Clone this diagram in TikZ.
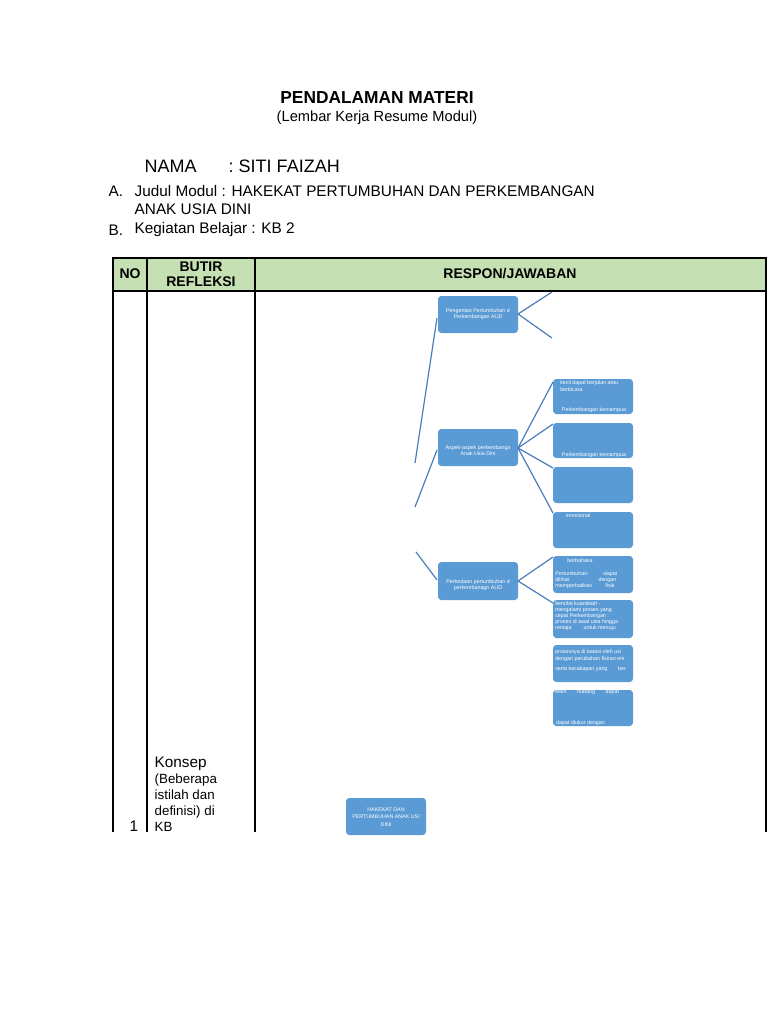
\documentclass[tikz,border=0pt]{standalone}
\usepackage{fontspec}
\setmainfont{Liberation Sans}
\begin{document}
\begin{tikzpicture}[x=0.75pt,y=-0.75pt,
 bx/.style={draw=none,fill=blue!45!cyan!60!black!0,rounded corners=2pt},
 blue/.style={fill=boxb,rounded corners=2.5pt},
 ln/.style={draw=lineb,line width=0.9pt},
 t/.style={text=white,font=\fontsize{4}{4.5}\selectfont,inner sep=0pt,align=center},
 tab/.style={line width=0.8pt}]
\definecolor{boxb}{HTML}{5B9BD5}
\definecolor{lineb}{HTML}{4A7EBB}
\definecolor{hdr}{HTML}{C5E0B3}
\useasboundingbox (0,0) rectangle (768,1024);
\fill[white] (0,0) rectangle (768,1024);
\node (title) at (377,98) {\fontsize{13}{15}\selectfont\bfseries PENDALAMAN MATERI};
\node (sub) at (377,118) {\fontsize{11}{13}\selectfont (Lembar Kerja Resume Modul)};
\node[anchor=west] (nama) at (140,166) {\fontsize{13.5}{15}\selectfont NAMA\hspace{24pt}: SITI FAIZAH};
\node[anchor=west] (a) at (104,191) {\fontsize{11.5}{13}\selectfont A.};
\node[anchor=west] (ja) at (130,191) {\fontsize{11.5}{13}\selectfont Judul Modul : HAKEKAT PERTUMBUHAN DAN PERKEMBANGAN};
\node[anchor=west] (jb) at (130,209) {\fontsize{11.5}{13}\selectfont ANAK USIA DINI};
\node[anchor=west] (b) at (104,230) {\fontsize{11.5}{13}\selectfont B.};
\node[anchor=west] (kb) at (130,230) {\fontsize{11.5}{13}\selectfont Kegiatan Belajar : KB 2};
% table
\fill[hdr] (113,258) rectangle (766,291);
\draw[tab] (113,832) -- (113,258) -- (766,258) -- (766,832);
\draw[tab] (113,291) -- (766,291);
\draw[tab] (147,258) -- (147,832);
\draw[tab] (255,258) -- (255,832);
\node (hno) at (130,274) {\fontsize{10.5}{12}\selectfont\bfseries NO};
\node[align=center] (hbr) at (201,274) {\fontsize{10.5}{12}\selectfont\bfseries BUTIR\\[-1pt]\fontsize{10.5}{12}\selectfont\bfseries REFLEKSI};
\node (hrj) at (510,274) {\fontsize{10.5}{12}\selectfont\bfseries RESPON/JAWABAN};
\node (n1) at (134,826) {\fontsize{11.5}{13}\selectfont 1};
\node[anchor=north west,align=left] (konsep) at (150,752) {\fontsize{11.5}{14.6}\selectfont Konsep\\(Beberapa\\istilah dan\\definisi) di\\KB};
% boxes
\fill[blue] (438,296) rectangle (518,333);
\fill[blue] (438,429) rectangle (518,466);
\fill[blue] (438,562) rectangle (518,600);
\fill[blue] (346,798) rectangle (426,835);
\foreach \y/\h in {379/414,423/458,467/503,512/548,556/593,600/638,645/682,690/726}
  \fill[blue] (553,\y) rectangle (633,\h);
\node[t] (p1) at (478,314) {Pengertian Pertumbuhan d\\Perkembangan AUD};
\node[t] (p2) at (478,451) {Aspek-aspek perkembanga\\Anak Usia Dini};
\node[t] (p3) at (478,585) {Perbedaan pertumbuhan d\\perkembanagn AUD};
\node[t] (hk) at (386,817) {HAKEKAT DAN\\[1pt]PERTUMBUHAN ANAK USI\\[1pt]DINI};
\node[t,anchor=north west,align=left] (r1) at (560,380) {kecil dapat berjalan atau\\[1pt]berbicara};
\node[t] (r1b) at (594,413) {Perkembangan kemampua\\ naa};
\node[t] (r2b) at (594,458) {Perkembangan kemampua\\ kognitif};
\node[t] (r4) at (578,516) {emosional};
\node[t] (r5a) at (580,561) {berbahasa};
\node[t,anchor=north west,align=left] (r5b) at (555,571) {Pertumbuhan:\hspace{10pt}-dapat\\dilihat\hspace{22pt}dengan\\memperhatikan\hspace{10pt}fisik};
\node[t,anchor=north west,align=left] (r6) at (555,601) {bersifat kuantitatif -\\mengalami proses yang\\ cepat Perkembangan :\\ proses di awal usia hingga\\remaja\hspace{8pt} untuk menuju};
\node[t,anchor=north west,align=left] (r7) at (555,649) {prosesnya di batasi oleh usi\\[1pt]dengan perubahan fisiran em\\[3pt]serta kecakapan yang\hspace{8pt}ber};
\node[t,anchor=north west,align=left] (r8) at (555,689) {lebih\hspace{8pt}matang\hspace{8pt}dapat};
\node[t,anchor=north west,align=left] (r8b) at (556,720) {dapat diukur dengan};
% connectors
\coordinate (c1) at (552,292); \coordinate (c2) at (552,338);
\draw[ln] (518,314) -- (c1); \draw[ln] (518,314) -- (c2);
\foreach \y in {382,424,468,513} \draw[ln] (518,448) -- (553,\y);
\draw[ln] (518,581) -- (553,557); \draw[ln] (518,581) -- (553,603);
\draw[ln] (415,463) -- (437,318);
\draw[ln] (415,507) -- (437,450);
\draw[ln] (416,552) -- (437,580);
\end{tikzpicture}
\end{document}
